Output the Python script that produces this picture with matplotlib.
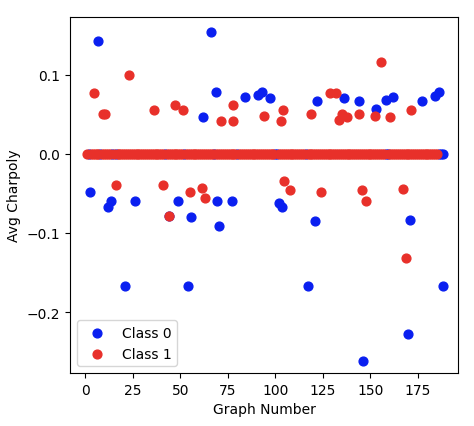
import matplotlib
matplotlib.use("Agg")
import matplotlib.pyplot as plt

# Class 0 non-zero points
c0_x = [6.5, 66, 69, 62, 84, 91, 93, 97, 122, 136, 144, 153, 158, 162, 177, 184, 186,
        2.7, 11.8, 13.5, 26, 21, 44, 49, 55.5, 54, 69.5, 70.5, 77, 102, 103.5, 120.6, 117,
        146, 169.6, 170.7, 188]
c0_y = [0.142, 0.154, 0.078, 0.046, 0.072, 0.074, 0.078, 0.071, 0.067, 0.071, 0.067, 0.057, 0.068, 0.072, 0.067, 0.073, 0.078,
        -0.048, -0.067, -0.059, -0.059, -0.167, -0.078, -0.059, -0.080, -0.167, -0.059, -0.091, -0.059, -0.062, -0.067, -0.085, -0.167,
        -0.262, -0.228, -0.084, -0.167]
# Class 0 zero-valued graphs
c0_zero_x = [2, 8, 14, 16, 42, 52, 68, 80, 100, 101, 116, 158, 159, 186, 187, 188]

# Class 1 non-zero points
c1_x = [4.4, 9.5, 10.5, 23, 36, 47, 51.5, 71.5, 77.5, 78, 94, 103, 104, 119, 129, 132,
        133.5, 135, 137.5, 144, 152.6, 155.8, 160.5, 171.6,
        16.3, 41, 44.2, 55.3, 61.6, 63.2, 104.7, 107.9, 124.2, 145.8, 147.9, 167.4, 168.9]
c1_y = [0.077, 0.050, 0.050, 0.100, 0.056, 0.062, 0.056, 0.042, 0.062, 0.042, 0.048, 0.042, 0.056, 0.050, 0.077, 0.077,
        0.043, 0.050, 0.046, 0.050, 0.048, 0.116, 0.046, 0.056,
        -0.039, -0.039, -0.078, -0.048, -0.043, -0.056, -0.034, -0.046, -0.048, -0.046, -0.059, -0.044, -0.131]
c1_zero_x = [x for x in range(1, 188) if x not in c0_zero_x]

fig = plt.figure(figsize=(4.74, 4.27), dpi=100)
ax = fig.add_axes([0.148, 0.124, 0.818, 0.834])
blue = "#0a1ff0"
red = "#e8302a"
ax.scatter(c0_x + c0_zero_x, c0_y + [0.0] * len(c0_zero_x), color=blue, s=40, label="Class 0", zorder=2)
ax.scatter(c1_x + c1_zero_x, c1_y + [0.0] * len(c1_zero_x), color=red, s=40, label="Class 1", zorder=3)
ax.set_xlim(-7.9, 196)
ax.set_ylim(-0.277, 0.173)
ax.set_xticks([0, 25, 50, 75, 100, 125, 150, 175])
ax.set_yticks([-0.2, -0.1, 0.0, 0.1])
ax.set_xlabel("Graph Number")
ax.set_ylabel("Avg Charpoly")
ax.legend(loc="lower left")
fig.savefig("out.png", dpi=100)
